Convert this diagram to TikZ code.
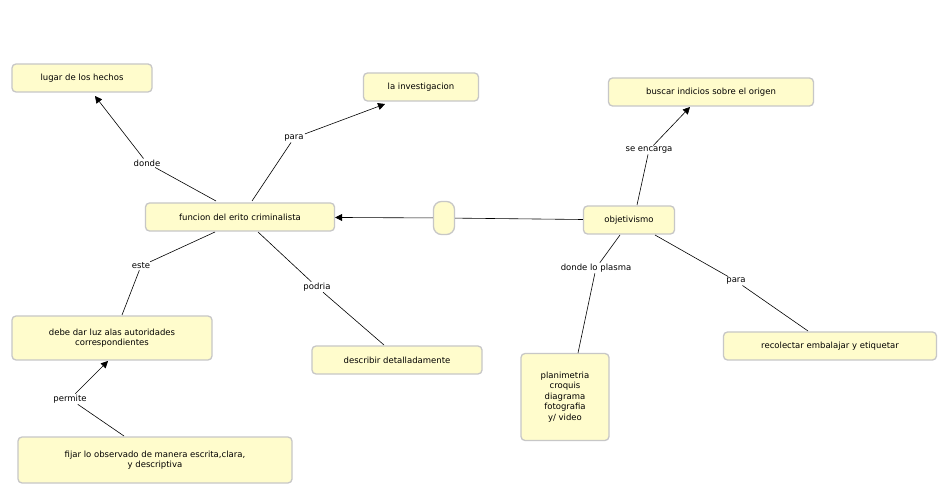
\documentclass[tikz,border=0pt]{standalone}
\usepackage{fontspec}
\setmainfont{DejaVu Sans}
\usetikzlibrary{arrows.meta}
\begin{document}
\begin{tikzpicture}[x=1pt,y=-1pt,
  concept/.style={draw=black!22,line width=1.3pt,fill=yellow!20!white,rounded corners=4pt,font=\fontsize{8.5}{10.5}\selectfont,align=center,inner sep=0pt,minimum height=28pt},
  lab/.style={fill=white,font=\fontsize{8.5}{10}\selectfont,inner sep=1pt},
  ln/.style={draw=black,line width=0.6pt},
  arr/.style={ln,-{Triangle[length=7pt,width=7pt]}}]
\path[use as bounding box,fill=white] (0,0) rectangle (940,486);
\node[concept,minimum width=140pt] (lugar) at (82,78) {lugar de los hechos};
\node[concept,minimum width=115pt] (inv) at (421,87) {la investigacion};
\node[concept,minimum width=205pt] (buscar) at (711,92) {buscar indicios sobre el origen};
\node[concept,minimum width=189pt] (fun) at (240,217) {funcion del erito criminalista};
\node[concept,minimum width=21pt,minimum height=33pt,rounded corners=8pt] (q) at (444,218) {};
\node[concept,minimum width=91pt] (obj) at (629,220) {objetivismo};
\node[concept,minimum width=200pt,minimum height=44pt] (debe) at (112,338) {debe dar luz alas autoridades\\correspondientes};
\node[concept,minimum width=170pt] (desc) at (397,360) {describir detalladamente};
\node[concept,minimum width=88pt,minimum height=87pt] (plan) at (565,397) {planimetria\\croquis\\diagrama\\fotografia\\y/ video};
\node[concept,minimum width=213pt] (rec) at (830,346) {recolectar embalajar y etiquetar};
\node[concept,minimum width=274pt,minimum height=46pt] (fij) at (155,460) {fijar lo observado de manera escrita,clara,\\y descriptiva};

\node[lab] (l1) at (147,163) {donde};
\node[lab] (l2) at (294,138) {para};
\node[lab] (l3) at (141,266) {este};
\node[lab] (l4) at (317,287) {podria};
\node[lab] (l5) at (649,150) {se encarga};
\node[lab] (l6) at (596,268) {donde lo plasma};
\node[lab] (l7) at (736,281) {para};
\node[lab] (l8) at (70,399) {permite};

\draw[ln] (216,201) -- (l1); \draw[arr] (l1) -- (95,96);
\draw[ln] (252,201) -- (l2); \draw[arr] (l2) -- (385,104);
\draw[ln] (215,232) -- (l3); \draw[ln] (l3) -- (122,315);
\draw[ln] (258,232) -- (l4); \draw[ln] (l4) -- (384,345);
\draw[ln] (obj) -- (q); \draw[arr] (q) -- (fun);
\draw[ln] (637,205) -- (l5); \draw[arr] (l5) -- (690,107);
\draw[ln] (620,235) -- (l6); \draw[ln] (l6) -- (578,353);
\draw[ln] (655,235) -- (l7); \draw[ln] (l7) -- (808,331);
\draw[ln] (124,436) -- (l8); \draw[arr] (l8) -- (108,361);
\end{tikzpicture}
\end{document}
